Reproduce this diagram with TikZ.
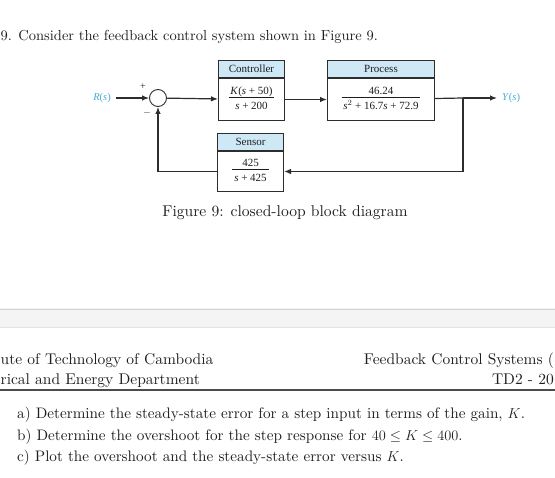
\documentclass[tikz,border=0pt]{standalone}
\usepackage{fontspec}
\newfontfamily\figfont{Liberation Serif}
\newfontfamily\docfont{lmroman10-regular.otf}
\usetikzlibrary{arrows.meta,positioning}

\definecolor{hdrblue}{RGB}{206,232,246}
\definecolor{sigblue}{RGB}{70,170,215}
\definecolor{wire}{RGB}{45,45,45}
\definecolor{ink}{RGB}{30,30,30}

\newcommand{\blkfrac}[2]{\begin{tabular}{@{\,}c@{\,}}#1\\[-1pt]\hline\rule{0pt}{12pt}#2\end{tabular}}
\newcommand{\docsize}[1]{\docfont\fontsize{#1}{18}\selectfont}

\tikzset{
  hdr/.style={draw=wire, fill=hdrblue, minimum height=17pt, inner sep=0pt, line width=1pt,
    font=\figfont\fontsize{11}{12}\selectfont, text=ink},
  blk/.style={draw=wire, fill=white, inner sep=0pt, line width=1pt,
    font=\figfont\fontsize{11}{12}\selectfont, text=ink},
  wireline/.style={draw=wire, line width=1.2pt},
  sig/.style={wireline, -{Latex[length=7pt,width=5.5pt]}},
  sigtxt/.style={font=\figfont\fontsize{10.5}{11}\selectfont, text=sigblue, inner sep=1pt},
  bodytxt/.style={font=\docsize{15.2}, text=ink, inner sep=0pt}
}

\begin{document}
\begin{tikzpicture}[x=1pt, y=-1pt]
  \useasboundingbox (0,0) rectangle (555,478);
  \clip (0,0) rectangle (555,478);

  \node[bodytxt, font=\docsize{14.5}, anchor=base west] (title) at (0.5,41) {9. Consider the feedback control system shown in Figure 9.};

  \node[hdr, minimum width=66pt, anchor=north west] (ctrlh) at (218,60) {Controller};
  \node[blk, minimum width=66pt, minimum height=42pt, below=0pt of ctrlh] (ctrl)
    {\blkfrac{\textit{K}(\textit{s} + 50)}{\textit{s} + 200}};
  \node[hdr, minimum width=107pt, anchor=north west] (proch) at (327,60) {Process};
  \node[blk, minimum width=107pt, minimum height=42pt, below=0pt of proch] (proc)
    {\blkfrac{46.24}{\textit{s}$^2$ + 16.7\textit{s} + 72.9}};
  \node[hdr, minimum width=66pt, anchor=north west] (sensh) at (217,133) {Sensor};
  \node[blk, minimum width=66pt, minimum height=40pt, below=0pt of sensh] (sens)
    {\blkfrac{425}{\textit{s} + 425}};

  \node[draw=wire, circle, minimum size=17pt, inner sep=0pt, line width=0.9pt] (sum) at (158,98) {};
  \node[font=\figfont\fontsize{10}{10}\selectfont, text=ink, inner sep=0pt] (plus) at (143,87) {+};
  \node[font=\figfont\fontsize{10}{10}\selectfont, text=ink, inner sep=0pt] (minus) at (147,113) {$-$};

  \coordinate (in) at (116,98);
  \coordinate (branch) at (463,98);
  \coordinate (out) at (497,98);
  \node[sigtxt, anchor=east] (rlab) at (112,98) {\textit{R}(\textit{s})};
  \node[sigtxt, anchor=west] (ylab) at (501,98) {\textit{Y}(\textit{s})};

  \draw[sig] (in) -- (sum);
  \draw[sig] (sum) -- (ctrl);
  \draw[sig] (ctrl) -- (proc);
  \draw[wireline] (proc) -- (branch);
  \draw[sig] (branch) -- (out);
  \draw[sig] (branch) |- (sens);
  \draw[sig] (sens) -| (sum);

  \node[bodytxt, font=\docsize{15.6}] (caption) at (285,213) {Figure 9: closed-loop block diagram};

  \fill[gray!9] (0,308) rectangle (555,328);
  \draw[gray!35, line width=0.8pt] (0,309) -- (555,309);
  \draw[gray!22, line width=0.8pt] (0,327) -- (555,327);

  \node[bodytxt, font=\docsize{15.5}, anchor=base west] (inst) at (0.5,365) {ute of Technology of Cambodia};
  \node[bodytxt, font=\docsize{15.5}, anchor=base west] (dept) at (0.5,385) {rical and Energy Department};
  \node[bodytxt, font=\docsize{15.5}, anchor=base east] (course) at (554,365) {Feedback Control Systems (};
  \node[bodytxt, font=\docsize{15.5}, anchor=base east] (td) at (554,385) {TD2 - 20};
  \draw[gray!60!black, line width=1.2pt] (0,390) -- (555,390);

  \node[bodytxt, anchor=base west] (qa) at (17,419) {a) Determine the steady-state error for a step input in terms of the gain, $K$.};
  \node[bodytxt, anchor=base west] (qb) at (17,441) {b) Determine the overshoot for the step response for $40 \leq K \leq 400$.};
  \node[bodytxt, anchor=base west] (qc) at (17,462) {c) Plot the overshoot and the steady-state error versus $K$.};
\end{tikzpicture}
\end{document}
